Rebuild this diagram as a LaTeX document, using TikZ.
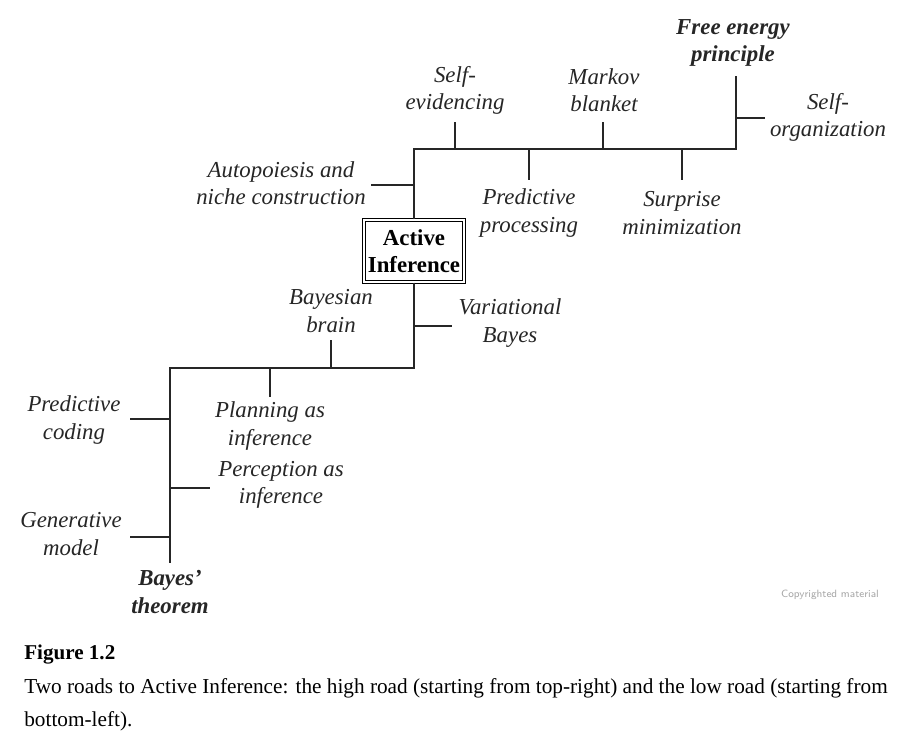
\documentclass[tikz,border=0pt]{standalone}
\usepackage{fontspec}
\setmainfont{Liberation Serif}
\begin{document}
\begin{tikzpicture}[x=0.02cm,y=-0.02cm,
  ln/.style={line width=0.8pt,black!85},
  lab/.style={font=\fontsize{13}{15.5}\selectfont\itshape,align=center,text=black!85,inner sep=1pt},
  blab/.style={lab,font=\fontsize{13}{15.5}\selectfont\bfseries\itshape},
  captxt/.style={font=\fontsize{12.1}{14}\selectfont,anchor=west,inner sep=0pt}]
\useasboundingbox (0,0) rectangle (910,748);
\fill[white] (0,0) rectangle (910,748);
% box
\node[draw,double,double distance=1.5pt,line width=0.6pt,minimum width=2cm,minimum height=1.24cm,font=\fontsize{13}{15.5}\selectfont\bfseries,align=center,inner sep=1pt] (ai) at (414,251) {Active\\Inference};
% coordinates
\coordinate (ut) at (414,149); \coordinate (ue) at (736,149);
\coordinate (fe) at (736,76); \coordinate (so) at (765,118); \coordinate (so0) at (736,118);
\coordinate (se0) at (455,149); \coordinate (se) at (455,122);
\coordinate (mb0) at (603,149); \coordinate (mb) at (603,122);
\coordinate (pp0) at (529,149); \coordinate (pp) at (529,180);
\coordinate (sm0) at (682,149); \coordinate (sm) at (682,180);
\coordinate (ap0) at (414,185); \coordinate (ap) at (371,185);
\coordinate (lt) at (414,368); \coordinate (le) at (170,368);
\coordinate (vb0) at (414,326); \coordinate (vb) at (452,326);
\coordinate (bb0) at (331,368); \coordinate (bb) at (331,340);
\coordinate (pl0) at (270,368); \coordinate (pl) at (270,397);
\coordinate (bt) at (170,563);
\coordinate (pc0) at (170,419); \coordinate (pc) at (130,419);
\coordinate (pe0) at (170,488); \coordinate (pe) at (210,488);
\coordinate (gm0) at (170,537); \coordinate (gm) at (130,537);
\draw[ln] (ai.north) -- (ut) -- (ue) -- (fe);
\draw[ln] (so0) -- (so); \draw[ln] (se0) -- (se); \draw[ln] (mb0) -- (mb);
\draw[ln] (pp0) -- (pp); \draw[ln] (sm0) -- (sm); \draw[ln] (ap0) -- (ap);
\draw[ln] (ai.south) -- (lt) -- (le) -- (bt);
\draw[ln] (vb0) -- (vb); \draw[ln] (bb0) -- (bb); \draw[ln] (pl0) -- (pl);
\draw[ln] (pc0) -- (pc); \draw[ln] (pe0) -- (pe); \draw[ln] (gm0) -- (gm);
% labels
\node[blab] (tfe) at (733,43) {Free energy\\principle};
\node[lab] (tso) at (828,117) {Self-\\organization};
\node[lab] (tse) at (455,90) {Self-\\evidencing};
\node[lab] (tmb) at (604,90) {Markov\\blanket};
\node[lab] (tpp) at (529,213) {Predictive\\processing};
\node[lab] (tsm) at (682,213) {Surprise\\minimization};
\node[lab] (tap) at (281,183) {Autopoiesis and\\niche construction};
\node[lab] (tbb) at (331,311) {Bayesian\\brain};
\node[lab] (tvb) at (510,323) {Variational\\Bayes};
\node[lab] (tpl) at (270,426) {Planning as\\inference};
\node[lab] (tpc) at (74,420) {Predictive\\coding};
\node[lab] (tpe) at (281,485) {Perception as\\inference};
\node[lab] (tgm) at (71,534) {Generative\\model};
\node[blab] (tbt) at (170,592) {Bayes'\\theorem};
\node[font=\fontsize{6}{7}\selectfont\sffamily,text=black!35] (cp) at (830,595) {Copyrighted material};
\node[captxt,font=\fontsize{12}{14}\selectfont\bfseries] (fg) at (24,655) {Figure 1.2};
\node[captxt] (c1) at (24,688) {Two roads to Active Inference: the high road (starting from top-right) and the low road (starting from};
\node[captxt] (c2) at (24,721) {bottom-left).};
\end{tikzpicture}
\end{document}
